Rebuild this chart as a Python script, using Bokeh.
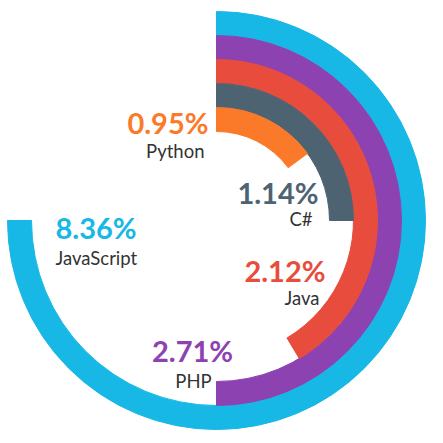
import math
from bokeh.plotting import figure
from bokeh.models import Range1d, ColumnDataSource
from bokeh.core.properties import value
from bokeh.embed import file_html
from bokeh.resources import INLINE

# languages from the outer ring to the inner ring
languages = ["JavaScript", "PHP", "Java", "C#", "Python"]
percents = [8.36, 2.71, 2.12, 1.14, 0.95]
# share of the full circle each arc covers
sweeps = [0.75, 0.5, 0.414, 0.25, 0.149]
colors = ["#17b8e6", "#8c42b0", "#e84c3d", "#4e6372", "#fb7a2a"]

W = 435
H = 435
# ring centre, in page pixels measured from the top left of the figure
cx, cy = 216, 220
ring_outer = 209
ring_w = 24

def ypix(y):
    # page y (downwards) to data y (upwards)
    return H - y

outer = [ring_outer - i * ring_w for i in range(len(languages))]
inner = [r - ring_w for r in outer]
start = [math.pi / 2] * len(languages)
end = [math.pi / 2 - s * 2 * math.pi for s in sweeps]

src = ColumnDataSource(data=dict(lang=languages, outer=outer, inner=inner,
                                 start=start, end=end, color=colors))

p = figure(width=W, height=H, output_backend="svg", toolbar_location=None,
           x_range=Range1d(0, W), y_range=Range1d(0, H), min_border=0)
p.axis.visible = False
p.grid.visible = False
p.outline_line_color = None
p.background_fill_color = "white"

p.annular_wedge(x=cx, y=ypix(cy), inner_radius="inner", outer_radius="outer",
                start_angle="start", end_angle="end", direction="clock",
                color="color", source=src)

# label placement: (x, baseline of number, baseline of name, align)
label_pos = {
    "JavaScript": (55, 227, 257, "left"),
    "PHP": (192, 350, 380, "center"),
    "Java": (325, 270, 297, "right"),
    "C#": (318, 192, 218, "right"),
    "Python": (208, 122, 150, "right"),
}
name_dx = {"JavaScript": 0, "PHP": 1, "Java": -6, "C#": -6, "Python": -4}

for lang, pct, col in zip(languages, percents, colors):
    x, yn, yl, align = label_pos[lang]
    p.text(x=[x], y=[ypix(yn)], text=["%.2f%%" % pct], text_color=col,
           text_font=value("Lato"), text_font_style="bold",
           text_font_size="29px", text_align=align, text_baseline="alphabetic")
    p.text(x=[x + name_dx[lang]], y=[ypix(yl)], text=[lang], text_color="#333333",
           text_font=value("Lato"), text_font_size="18.5px",
           text_align=align, text_baseline="alphabetic")

open("out.html", "w").write(file_html(p, INLINE))
